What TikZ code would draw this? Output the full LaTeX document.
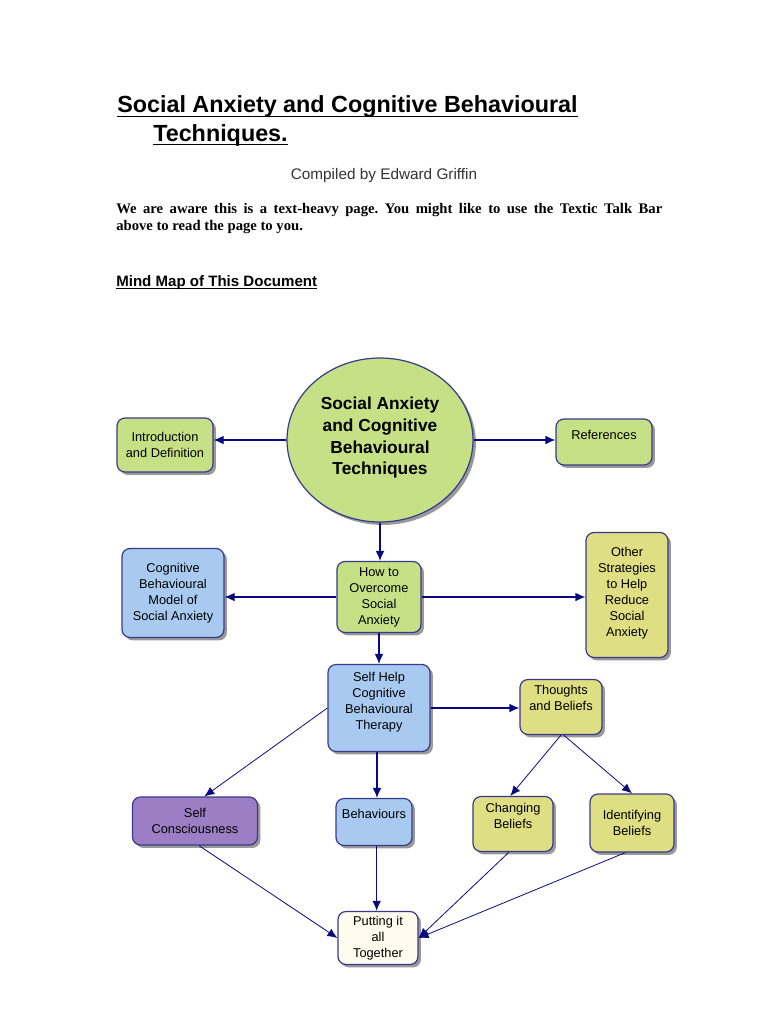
\documentclass[tikz,border=0pt]{standalone}
\usepackage{fontspec}
\setmainfont{Liberation Sans}
\newfontfamily\serifbf{Liberation Serif}
\usetikzlibrary{shadows,arrows.meta,calc,shapes.geometric}
\definecolor{cgreen}{RGB}{198,224,134}
\definecolor{cblue}{RGB}{168,202,240}
\definecolor{cyellow}{RGB}{222,222,130}
\definecolor{cpurple}{RGB}{155,126,196}
\definecolor{ccream}{RGB}{255,251,238}
\definecolor{cborder}{RGB}{58,58,140}
\definecolor{carrow}{RGB}{10,10,128}
\frenchspacing
\begin{document}
\begin{tikzpicture}[x=0.75pt,y=-0.75pt,
  box/.style={draw=cborder, line width=0.9pt, rounded corners=6pt, align=center, inner sep=1pt,
    font=\fontsize{9.6}{12}\selectfont,
    drop shadow={shadow xshift=2.2pt, shadow yshift=-2.2pt, fill=black, opacity=0.4}},
  conn/.style={draw=carrow, line width=0.9pt, -{Latex[length=7.5pt,width=6.5pt]}},
  thin/.style={conn, line width=0.6pt}]
\useasboundingbox[fill=white] (0,0) rectangle (768,1024);

% header texts
\node[anchor=base west, inner sep=0, font=\fontsize{17.5}{21}\selectfont\bfseries] (t1) at (117,113) {Social Anxiety and Cognitive Behavioural };
\node[anchor=base west, inner sep=0, font=\fontsize{17.5}{21}\selectfont\bfseries] (t2) at (153,141) {Techniques. };
\draw[line width=1.1pt] ([yshift=-2.6pt]t1.base west) -- ([yshift=-2.6pt]t1.base east);
\draw[line width=1.1pt] ([yshift=-2.6pt]t2.base west) -- ([yshift=-2.6pt]t2.base east);
\node[anchor=base, inner sep=0, font=\fontsize{11.5}{14}\selectfont, text=black!80] (comp) at (384,179) {Compiled by Edward Griffin};
\node[anchor=base west, inner sep=0, font=\serifbf\bfseries\fontsize{11}{13}\selectfont] (p1) at (116,213) {\makebox[409.5pt][s]{We are aware this is a text-heavy page. You might like to use the Textic Talk Bar}};
\node[anchor=base west, inner sep=0, font=\serifbf\bfseries\fontsize{11}{13}\selectfont] (p2) at (116,230) {above to read the page to you.};
\node[anchor=base west, inner sep=0, font=\fontsize{11.3}{14}\selectfont\bfseries] (mm) at (116,286) {Mind Map of This Document };
\draw[line width=0.9pt] ([yshift=-2pt]mm.base west) -- ([yshift=-2pt]mm.base east);

% nodes
\node[ellipse, draw=cborder, line width=0.9pt, fill=cgreen, minimum width=139.5pt, minimum height=123pt,
  align=center, inner sep=0, font=\fontsize{13}{16.3}\selectfont\bfseries, text depth=6pt,
  drop shadow={shadow xshift=2.2pt, shadow yshift=-2.2pt, fill=black, opacity=0.4}] (central) at (380,440)
  {Social Anxiety\\and Cognitive\\Behavioural\\Techniques};
\node[box, fill=cgreen, minimum width=72pt, minimum height=40.5pt] (intro) at (165,445) {Introduction\\and Definition};
\node[box, fill=cgreen, minimum width=72pt, minimum height=34.5pt, text depth=10pt] (refs) at (604,442) {References};
\node[box, fill=cgreen, minimum width=63pt, minimum height=53.25pt] (howto) at (379,597) {How to\\Overcome\\Social\\Anxiety};
\node[box, fill=cblue, minimum width=76.5pt, minimum height=66.75pt] (cbm) at (173,593) {Cognitive\\Behavioural\\Model of\\Social Anxiety};
\node[box, fill=cyellow, minimum width=61.5pt, minimum height=93.75pt, text depth=5pt] (other) at (627,595) {Other\\Strategies\\to Help\\Reduce\\Social\\Anxiety};
\node[box, fill=cblue, minimum width=76.5pt, minimum height=65.25pt, text depth=10pt] (selfhelp) at (379,708) {Self Help\\Cognitive\\Behavioural\\Therapy};
\node[box, fill=cyellow, minimum width=61.5pt, minimum height=41.25pt, text depth=14pt] (thoughts) at (561,707) {Thoughts\\and Beliefs};
\node[box, fill=cpurple, minimum width=93.75pt, minimum height=36pt] (selfc) at (195,821) {Self\\Consciousness};
\node[box, fill=cblue, minimum width=57pt, minimum height=35.25pt, text depth=12pt] (behav) at (374,822) {Behaviours};
\node[box, fill=cyellow, minimum width=60pt, minimum height=41.25pt, text depth=12pt] (changing) at (513,824) {Changing\\Beliefs};
\node[box, fill=cyellow, minimum width=63pt, minimum height=43.5pt] (ident) at (632,823) {Identifying\\Beliefs};
\node[box, fill=ccream, minimum width=60pt, minimum height=39.75pt] (putting) at (378,938) {Putting it\\all\\Together};

% connectors
\draw[conn] (central.west) -- (intro.east |- central.west);
\draw[conn] (central.east) -- (refs.west |- central.east);
\draw[conn] (central.south) -- (central.south |- howto.north);
\draw[conn] (howto.west) -- (cbm.east |- howto.west);
\draw[conn] (howto.east) -- (other.west |- howto.east);
\draw[conn] (howto.south) -- (selfhelp.north);
\draw[conn] (selfhelp.east) -- (thoughts.west |- selfhelp.east);
\draw[thin] (selfhelp.west) -- ([xshift=7pt]selfc.north);
\draw[conn] ([xshift=-1.5pt]selfhelp.south) -- ([xshift=-1.5pt]selfhelp.south |- behav.north);
\draw[thin] (thoughts.south) -- ([xshift=-2pt]changing.north);
\draw[thin] ([xshift=2pt]thoughts.south) -- (ident.north);
\draw[thin] ([xshift=3pt]selfc.south) -- (putting.west);
\draw[conn] ([xshift=2pt]behav.south) -- ([xshift=2pt]behav.south |- putting.north);
\draw[thin] ([xshift=-3pt]changing.south) -- (putting.east);
\draw[thin] ([xshift=-5pt]ident.south) -- (putting.east);
\end{tikzpicture}
\end{document}
